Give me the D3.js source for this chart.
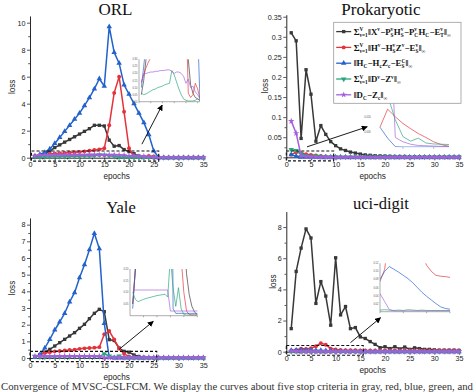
<!DOCTYPE html>
<html><head><meta charset="utf-8">
<script src="https://cdn.jsdelivr.net/npm/d3@7"></script>
<style>body{margin:0;background:#fff}svg{display:block}</style>
</head><body><svg id="c" width="474" height="392"></svg>
<script>
// ---------------- DATA ----------------
const epochs = [1,2,3,4,5,6,7,8,9,10,11,12,13,14,15,16,17,18,19,20,21,22,23,24,25,26,27,28,29,30,31,32,33,34,35];
const xTickValues = [0,5,10,15,20,25,30,35];
const panelTitles = ["ORL","Prokaryotic","Yale","uci-digit"];
const axisTitleX = "epochs";
const axisTitleY = "loss";

const orlBlack  = [0.05,0.15,0.3,0.5,0.75,0.95,1.15,1.35,1.55,1.75, 1.95,2.15,2.4,2.4,2.35,1.3,0.85,0.9,0.6,0.45, 0.3,0.12,0.06,0.03,0.02,0.01,0.01,0.01,0.01,0.01, 0.01,0.01,0.01,0.01,0.01];
const orlRed    = [0.14,0.19,0.24,0.28,0.31,0.33,0.35,0.38,0.4,0.43, 0.47,0.52,0.57,0.62,0.7,2.4,4.8,6.0,3.4,0.7, 0.06,0.03,0.05,0.13,0.09,0.02,0.01,0.01,0.01,0.01, 0.01,0.01,0.01,0.01,0.01];
const orlBlue   = [0.1,0.25,0.4,0.65,1.05,1.5,1.95,2.4,2.85,3.3, 3.85,4.45,5.1,5.85,5.3,9.7,7.8,7.0,5.4,4.7, 4.0,3.3,2.6,1.7,0.5,0.01,0.005,0.005,0.005,0.005, 0.005,0.005,0.005,0.005,0.005];
const orlGreen  = [0.06,0.05,0.055,0.065,0.075,0.085,0.09,0.1,0.105,0.11, 0.12,0.125,0.13,0.22,0.19,0.14,0.09,0.05,0.02,0.01, 0.005,0.005,0.005,0.01,0.02,0.005,0.003,0.003,0.003,0.003, 0.003,0.003,0.003,0.003,0.003];
const orlPurple = [0.13,0.2,0.2,0.205,0.21,0.21,0.215,0.215,0.22,0.22, 0.222,0.225,0.225,0.215,0.2,0.21,0.21,0.2,0.18,0.13, 0.16,0.1,0.11,0.07,0.05,0.02,0.01,0.01,0.01,0.01, 0.01,0.01,0.01,0.01,0.01];

const prokBlack  = [0.31,0.29,0.047,0.218,0.157,0.04,0.079,0.057,0.039,0.029, 0.021,0.017,0.013,0.0105,0.008,0.006,0.005,0.004,0.0035,0.003, 0.0025,0.002,0.002,0.002,0.0015,0.0015,0.0015,0.001,0.001,0.001, 0.001,0.001,0.001,0.001,0.001];
const prokRed    = [0.0066,0.0125,0.01,0.0078,0.0061,0.0045,0.0032,0.0018,0.0009,0.0003, 0.0002,0.0002,0.0002,0.0002,0.0002,0.0002,0.0002,0.0002,0.0002,0.0002, 0.0002,0.0002,0.0002,0.0002,0.0002,0.0002,0.0002,0.0002,0.0002,0.0002, 0.0002,0.0002,0.0002,0.0002,0.0002];
const prokBlue   = [0.0066,0.003,0.0002,0.0001,0.0001,0.0001,0.0001,0.0001,0.0001,0.0001, 0.0001,0.0001,0.0001,0.0001,0.0001,0.0001,0.0001,0.0001,0.0001,0.0001, 0.0001,0.0001,0.0001,0.0001,0.0001,0.0001,0.0001,0.0001,0.0001,0.0001, 0.0001,0.0001,0.0001,0.0001,0.0001];
const prokGreen  = [0.019,0.017,0.009,0.0035,0.002,0.003,0.0014,0.0011,0.001,0.0009, 0.0005,0.0005,0.0005,0.0005,0.0005,0.0005,0.0005,0.0005,0.0005,0.0005, 0.0005,0.0005,0.0005,0.0005,0.0005,0.0005,0.0005,0.0005,0.0005,0.0005, 0.0005,0.0005,0.0005,0.0005,0.0005];
const prokPurple = [0.09,0.06,0.0032,0.0018,0.001,0.0006,0.0005,0.0004,0.0003,0.0003, 0.0003,0.0003,0.0003,0.0003,0.0003,0.0003,0.0003,0.0003,0.0003,0.0003, 0.0003,0.0003,0.0003,0.0003,0.0003,0.0003,0.0003,0.0003,0.0003,0.0003, 0.0003,0.0003,0.0003,0.0003,0.0003];

const yaleBlack  = [0.05,0.2,0.35,0.52,0.72,0.92,1.12,1.32,1.52,1.78, 2.02,2.36,2.68,2.92,2.78,1.1,1.05,0.6,0.4,0.35, 0.18,0.09,0.04,0.015,0.005,0.003,0.003,0.003,0.003,0.003, 0.003,0.003,0.003,0.003,0.003];
const yaleRed    = [0.05,0.2,0.3,0.35,0.4,0.42,0.45,0.48,0.5,0.55, 0.58,0.6,0.62,0.65,1.42,1.62,1.12,0.56,0.25,0.1, 0.02,0.005,0.003,0.003,0.003,0.003,0.003,0.003,0.003,0.003, 0.003,0.003,0.003,0.003,0.003];
const yaleBlue   = [0.03,0.2,0.6,1.12,1.68,2.16,2.68,3.36,3.92,4.82, 5.6,6.5,7.48,6.56,2.08,0.03,0.01,0.01,0.01,0.01, 0.01,0.01,0.01,0.01,0.01,0.01,0.01,0.01,0.01,0.01, 0.01,0.01,0.01,0.01,0.01];
const yaleGreen  = [0.1,0.07,0.06,0.065,0.07,0.074,0.077,0.08,0.083,0.086, 0.088,0.09,0.092,0.08,0.25,0.12,0.04,0.12,0.03,0.005, 0.003,0.003,0.003,0.003,0.003,0.003,0.003,0.003,0.003,0.003, 0.003,0.003,0.003,0.003,0.003];
const yalePurple = [0.105,0.11,0.11,0.11,0.11,0.11,0.11,0.11,0.11,0.11, 0.11,0.11,0.11,0.11,0.02,0.02,0.02,0.02,0.02,0.02, 0.02,0.02,0.02,0.02,0.02,0.02,0.02,0.02,0.02,0.02, 0.02,0.02,0.02,0.02,0.02];

const uciBlack  = [1.48,5.15,6.65,7.88,7.3,3.1,4.5,3.57,1.7,6.03, 2.36,2.9,1.48,1.55,0.95,0.85,0.65,0.47,0.26,0.32, 0.2,0.32,0.18,0.3,0.15,0.25,0.2,0.15,0.15,0.12, 0.1,0.1,0.1,0.1,0.08];
const uciRed    = [0.075,0.105,0.2,0.18,0.22,0.35,0.55,0.45,0.2,0.14, 0.115,0.1,0.09,0.088,0.087,0.085,0.085,0.08,0.08,0.08, 0.08,0.08,0.08,0.08,0.08,0.08,0.08,0.08,0.08,0.08, 0.08,0.08,0.08,0.08,0.08];
const uciBlue   = [0.08,0.1,0.112,0.105,0.098,0.09,0.082,0.072,0.06,0.048, 0.038,0.029,0.02,0.012,0.008,0.006,0.005,0.005,0.005,0.005, 0.005,0.005,0.005,0.005,0.005,0.005,0.005,0.005,0.005,0.005, 0.005,0.005,0.005,0.005,0.005];
const uciGreen  = [0.004,0.005,0.004,0.003,0.004,0.003,0.005,0.004,0.003,0.004, 0.003,0.003,0.003,0.003,0.003,0.003,0.003,0.003,0.003,0.003, 0.003,0.003,0.003,0.003,0.003,0.003,0.003,0.003,0.003,0.003, 0.003,0.003,0.003,0.003,0.003];
const uciPurple = [0.045,0.025,0.005,0.002,0.002,0.002,0.002,0.002,0.002,0.002, 0.002,0.002,0.002,0.002,0.002,0.002,0.002,0.002,0.002,0.002, 0.002,0.002,0.002,0.002,0.002,0.002,0.002,0.002,0.002,0.002, 0.002,0.002,0.002,0.002,0.002];

// legend entries (math rendered from tokens)
const legendEntries = [
  [{b:"Σ"},{sup:"V",sub:"v=1"},{b:"‖X"},{sup:"v"},{b:"−P"},{sup:"v",sub:"S"},{b:"H"},{sup:"v",sub:"S"},{b:"−P"},{sup:"v",sub:"C"},{b:"H"},{sub:"C"},{b:"−E"},{sup:"v",sub:"T"},{b:"‖"},{sub:"∞"}],
  [{b:"Σ"},{sup:"V",sub:"v=1"},{b:"‖H"},{sup:"v"},{b:"−H"},{sup:"v",sub:"S"},{b:"Z"},{sup:"v"},{b:"−E"},{sup:"v",sub:"S"},{b:"‖"},{sub:"∞"}],
  [{b:"‖H"},{sub:"C"},{b:"−H"},{sub:"c"},{b:"Z"},{sub:"c"},{b:"−E"},{sup:"C",sub:"S"},{b:"‖"},{sub:"∞"}],
  [{b:"Σ"},{sup:"V",sub:"v=1"},{b:"‖D"},{sup:"v"},{b:"−Z"},{sup:"v"},{b:"‖"},{sub:"∞"}],
  [{b:"‖D"},{sub:"C"},{b:"−Z"},{sub:"c"},{b:"‖"},{sub:"∞"}]
];
const captionText = "Convergence of MVSC-CSLFCM. We display the curves about five stop criteria in gray, red, blue, green, and";

// ---------------- STYLE / LAYOUT ----------------
const colors = ["#383838","#e5323a","#2362cc","#2aa57a","#a35fdc"];
const symTypes = [d3.symbolSquare, d3.symbolCircle, d3.symbolTriangle, d3.symbolTriangle, d3.symbolStar];
const symRot = [0,0,0,180,0];
const symSize = [11,12,13,13,13];

const panels = [
  {title:0, tx:115.5, ty:14.8, tfs:17, x0:30, x1:203.3, yb:157.7, ymax:10.5, ypx:13.5,
   yTicks:[0,2,4,6,8,10], yMinor:[1,3,5,7,9], fmt:d3.format("d"), lossX:12,
   series:[orlBlack,orlRed,orlBlue,orlGreen,orlPurple],
   box:[0.3,26,-0.25,0.5], arrow:[22.6,1.0,26.7,3.9],
   inset:{x0:139,x1:200,y0:101.7,y1:59.3,xd:[0,26],yd:[0,0.3],xt:[0,5,10,15,20,25],yt:[0,0.05,0.1,0.15,0.2,0.25,0.3],fmt:d3.format(".2f"),axes:true}},
  {title:1, tx:381, ty:14.5, tfs:17, x0:286.3, x1:459, yb:157.3, ymax:0.355, ypx:401.7,
   yTicks:[0,0.05,0.1,0.15,0.2,0.25,0.3,0.35], yMinor:[0.025,0.075,0.125,0.175,0.225,0.275,0.325], fmt:v=>String(+v.toFixed(2)), lossX:265,
   series:[prokBlack,prokRed,prokBlue,prokGreen,prokPurple],
   box:[0,9.6,-0.009,0.0157], arrow:[4.2,0.026,16.4,0.076],
   inset:{x0:372.3,x1:449,y0:147.3,y1:100,xd:[0,10],yd:[0,0.0155],xt:[4,8],yt:[0.005,0.01],fmt:d3.format(".3f"),axes:false}},
  {title:2, tx:121, ty:212.5, tfs:16.5, x0:30, x1:203.3, yb:358, ymax:8.4, ypx:16.67,
   yTicks:[0,1,2,3,4,5,6,7,8], yMinor:[0.5,1.5,2.5,3.5,4.5,5.5,6.5,7.5], fmt:d3.format("d"), lossX:12,
   series:[yaleBlack,yaleRed,yaleBlue,yaleGreen,yalePurple],
   box:[0,25.6,-0.22,0.4], arrow:[18,0.52,24.9,2.2],
   inset:{x0:130,x1:197.3,y0:315.7,y1:269,xd:[0,25],yd:[0,0.2],xt:[5,10,15,20,25],yt:[0.05,0.1,0.15,0.2],fmt:d3.format(".2f"),axes:true}},
  {title:3, tx:381, ty:209, tfs:16.5, x0:286.3, x1:459, yb:351.7, ymax:9, ypx:15.58,
   yTicks:[0,2,4,6,8], yMinor:[1,3,5,7], fmt:d3.format("d"), lossX:273,
   series:[uciBlack,uciRed,uciBlue,uciGreen,uciPurple],
   box:[0,15.6,-0.23,0.4], arrow:[13,0.58,19.1,2.18],
   inset:{x0:380,x1:450,y0:311.7,y1:263.3,xd:[1,16],yd:[0,0.12],xt:[1,6,11,16],yt:[0.02,0.04,0.06,0.08,0.1,0.12],fmt:d3.format(".2f"),axes:true}}
];

// ---------------- DRAW ----------------
const svg = d3.select("#c");
svg.append("rect").attr("width",474).attr("height",392).attr("fill","#fff");
const defs = svg.append("defs");
defs.append("marker").attr("id","arr").attr("viewBox","0 0 10 10").attr("refX",9).attr("refY",5)
  .attr("markerWidth",6).attr("markerHeight",6).attr("markerUnits","userSpaceOnUse").attr("orient","auto")
  .append("path").attr("d","M0,0L10,5L0,10z").attr("fill","#000");

const sans = "Liberation Sans, Arial, sans-serif";
const serif = "Liberation Serif, Times New Roman, serif";

panels.forEach((p, pi) => {
  const g = svg.append("g");
  const x = d3.scaleLinear().domain([0,35]).range([p.x0,p.x1]);
  const y = d3.scaleLinear().domain([0,p.ymax]).range([p.yb, p.yb - p.ymax*p.ypx]);

  g.append("text").attr("x",p.tx).attr("y",p.ty).attr("text-anchor","middle")
    .attr("font-family",serif).attr("font-size",p.tfs).attr("fill","#111").text(panelTitles[p.title]);

  g.append("g").attr("transform",`translate(0,${p.yb})`)
    .call(d3.axisBottom(x).tickValues(xTickValues).tickSize(3).tickSizeOuter(0).tickPadding(1.5).tickFormat(d3.format("d")));
  g.append("g").attr("transform",`translate(0,${p.yb})`)
    .call(d3.axisBottom(x).tickValues([2.5,7.5,12.5,17.5,22.5,27.5,32.5]).tickSize(1.8).tickSizeOuter(0).tickFormat(""))
    .select(".domain").remove();
  g.append("g").attr("transform",`translate(${p.x0},0)`)
    .call(d3.axisLeft(y).tickValues(p.yTicks).tickSize(3).tickSizeOuter(0).tickPadding(1.5).tickFormat(p.fmt));
  g.append("g").attr("transform",`translate(${p.x0},0)`)
    .call(d3.axisLeft(y).tickValues(p.yMinor).tickSize(1.8).tickSizeOuter(0).tickFormat(""))
    .select(".domain").remove();
  g.selectAll(".tick text").attr("font-family",sans).attr("font-size",7.2).attr("fill","#222");
  g.selectAll(".domain").attr("stroke","#111").attr("stroke-width",0.9);
  g.selectAll(".tick line").attr("stroke","#111").attr("stroke-width",0.7);

  g.append("text").attr("x",(p.x0+p.x1)/2).attr("y",p.yb+21.5).attr("text-anchor","middle")
    .attr("font-family",sans).attr("font-size",8.2).attr("fill","#222").text(axisTitleX);
  g.append("text").attr("transform",`translate(${p.lossX},${(p.yb+y(p.ymax))/2}) rotate(-90)`)
    .attr("text-anchor","middle").attr("dy","0.35em")
    .attr("font-family",sans).attr("font-size",8.2).attr("fill","#222").text(axisTitleY);

  p.series.forEach((s, si) => {
    const pts = epochs.map((e,k)=>[e, s[k]]);
    g.append("path").datum(pts)
      .attr("d", d3.line().x(d=>x(d[0])).y(d=>y(d[1])))
      .attr("fill","none").attr("stroke",colors[si]).attr("stroke-width",1.5).attr("stroke-linejoin","round");
    g.append("g").selectAll("path").data(pts).join("path")
      .attr("transform", d=>`translate(${x(d[0])},${y(d[1])}) rotate(${symRot[si]})`)
      .attr("d", d3.symbol(symTypes[si], symSize[si]))
      .attr("fill",colors[si]);
  });

  g.append("rect").attr("x",x(p.box[0])).attr("y",y(p.box[3]))
    .attr("width",x(p.box[1])-x(p.box[0])).attr("height",y(p.box[2])-y(p.box[3]))
    .attr("fill","none").attr("stroke","#111").attr("stroke-width",1.1).attr("stroke-dasharray","3,2");

  g.append("line").attr("x1",x(p.arrow[0])).attr("y1",y(p.arrow[1])).attr("x2",x(p.arrow[2])).attr("y2",y(p.arrow[3]))
    .attr("stroke","#000").attr("stroke-width",0.9).attr("marker-end","url(#arr)");

  const I = p.inset;
  const ix = d3.scaleLinear().domain(I.xd).range([I.x0,I.x1]);
  const iy = d3.scaleLinear().domain(I.yd).range([I.y0,I.y1]);
  const ig = g.append("g");
  ig.append("rect").attr("x",I.x0).attr("y",I.y1).attr("width",I.x1-I.x0).attr("height",I.y0-I.y1).attr("fill","#fff");
  const cid = "clip"+pi;
  defs.append("clipPath").attr("id",cid).append("rect")
    .attr("x",I.x0).attr("y",I.y1).attr("width",I.x1-I.x0).attr("height",I.y0-I.y1);
  const lg = ig.append("g").attr("clip-path",`url(#${cid})`);
  p.series.forEach((s, si) => {
    const pts = epochs.map((e,k)=>[e, s[k]]);
    lg.append("path").datum(pts)
      .attr("d", d3.line().x(d=>ix(d[0])).y(d=>iy(d[1])))
      .attr("fill","none").attr("stroke",colors[si]).attr("stroke-width",0.75).attr("opacity",0.9);
  });
  const ac = I.axes ? "#777" : "none";
  ig.append("line").attr("x1",I.x0).attr("x2",I.x0).attr("y1",I.y1).attr("y2",I.y0).attr("stroke",ac).attr("stroke-width",0.6);
  ig.append("line").attr("x1",I.x0).attr("x2",I.x1).attr("y1",I.y0).attr("y2",I.y0).attr("stroke",ac).attr("stroke-width",0.6);
  ig.selectAll(".xt").data(I.xt).join("line").attr("x1",d=>ix(d)).attr("x2",d=>ix(d))
    .attr("y1",I.y0).attr("y2",I.y0+1.5).attr("stroke","#777").attr("stroke-width",0.6);
  ig.selectAll(".yl").data(I.yt).join("text").attr("x",I.x0-1.5).attr("y",d=>iy(d)+1)
    .attr("text-anchor","end").attr("font-family",sans).attr("font-size",2.6).attr("fill","#555").text(d=>I.fmt(d));
});

// legend (Prokaryotic panel)
(function(){
  const L = svg.append("g");
  const bx = 333.7, by = 22.3, bw = 127.3, bh = 81;
  L.append("rect").attr("x",bx).attr("y",by).attr("width",bw).attr("height",bh)
    .attr("fill","#fff").attr("stroke","#9a9a9a").attr("stroke-width",0.8);
  const fs = 8.8;
  legendEntries.forEach((toks, i) => {
    const cy = 31.6 + i*15.8;
    L.append("line").attr("x1",bx+2.5).attr("x2",bx+17.5).attr("y1",cy).attr("y2",cy)
      .attr("stroke",colors[i]).attr("stroke-width",1.3);
    L.append("path").attr("transform",`translate(${bx+10},${cy}) rotate(${symRot[i]})`)
      .attr("d",d3.symbol(symTypes[i],symSize[i])).attr("fill",colors[i]);
    const tg = L.append("g").attr("font-family",serif).attr("font-weight","bold").attr("fill","#111");
    let cx = bx + 20;
    const base = cy + 3.1;
    toks.forEach(t => {
      if (t.b !== undefined) {
        const n = tg.append("text").attr("x",cx).attr("y",base).attr("font-size",fs).text(t.b);
        cx += n.node().getComputedTextLength();
      } else {
        let w = 0;
        if (t.sup) { const n = tg.append("text").attr("x",cx).attr("y",base-3.4).attr("font-size",fs*0.6).text(t.sup); w = Math.max(w,n.node().getComputedTextLength()); }
        if (t.sub) { const n = tg.append("text").attr("x",cx).attr("y",base+2.1).attr("font-size",fs*0.6).text(t.sub); w = Math.max(w,n.node().getComputedTextLength()); }
        cx += w + 0.3;
      }
    });
  });
})();

// caption
svg.append("text").attr("x",1).attr("y",389.5).attr("font-family",serif).attr("font-size",10)
  .attr("fill","#333").attr("textLength",472).attr("lengthAdjust","spacingAndGlyphs").text(captionText);
</script></body></html>
